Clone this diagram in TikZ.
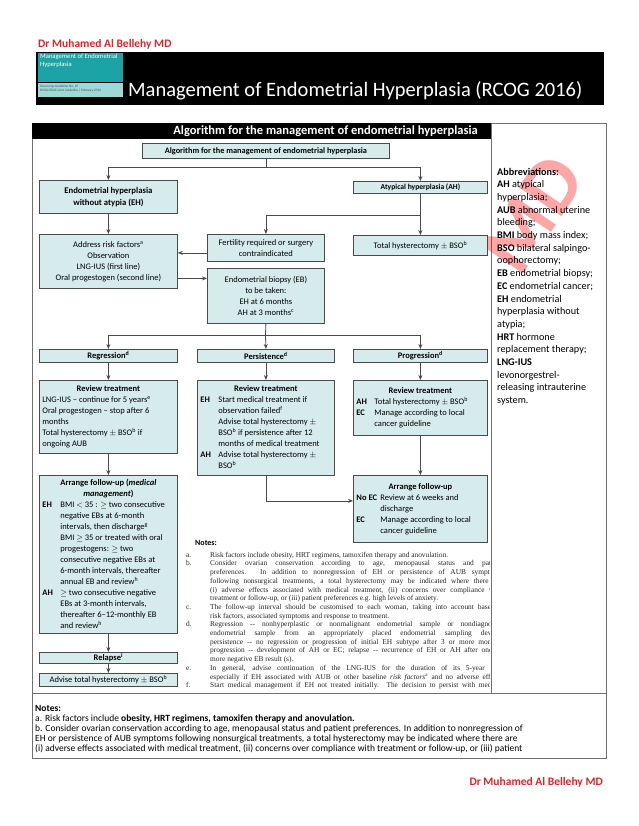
\documentclass[tikz,border=0pt]{standalone}
\usepackage{fontspec}
\setmainfont{Carlito}
\newfontfamily\notesfont{Liberation Serif}
\usepackage{array}
\usetikzlibrary{arrows.meta,calc}
\definecolor{boxfill}{HTML}{D6ECEC}
\definecolor{boxline}{HTML}{4A4A4A}
\definecolor{sigred}{HTML}{D9262A}
\definecolor{tealA}{HTML}{1BA3A6}
\definecolor{tealB}{HTML}{9FD9D6}
\definecolor{frameline}{HTML}{707070}
\newcommand{\jline}[1]{\makebox[292pt][s]{#1}}
\begin{document}
\begin{tikzpicture}[x=1pt,y=-1pt,
  fbox/.style={draw=boxline, fill=boxfill, line width=0.8pt, inner sep=0pt, anchor=north west, align=center, font=\fontsize{8.5}{11}\selectfont},
  arr/.style={draw=boxline, line width=0.8pt, -{Stealth[length=5pt,width=4pt]}},
  ln/.style={draw=boxline, line width=0.8pt},
  plain/.style={inner sep=0pt}
]
\useasboundingbox (0,0) rectangle (638,826);
\fill[white] (0,0) rectangle (638,826);

% ---------- header ----------
\node[plain, anchor=west, text=sigred, font=\bfseries\fontsize{11.5}{12}\selectfont] (sig1) at (38,44) {Dr Muhamed Al Bellehy MD};
\node[plain, fill=black, anchor=north west, minimum width=568, minimum height=53] (band) at (36,52) {};
\node[plain, fill=tealA, anchor=north west, minimum width=85, minimum height=29] (tealtop) at (38,53) {};
\node[plain, fill=tealB, anchor=north west, minimum width=85, minimum height=14] (tealbot) at (38,83) {};
\node[plain, anchor=north west, text=white, align=left, font=\fontsize{6.6}{8}\selectfont] (tealtxt) at (40,54) {Management of Endometrial\\Hyperplasia};
\node[plain, anchor=north west, text=black!70, align=left, font=\fontsize{3.4}{4.2}\selectfont] (tealtxt2) at (40,85) {Green-top Guideline No. 67\\RCOG/BSGE Joint Guideline | February 2016};
\node[plain, anchor=base west, text=white, font=\fontsize{20.5}{21}\selectfont] (title) at (128,97) {Management of Endometrial Hyperplasia (RCOG 2016)};

% ---------- frame ----------
\draw[frameline, line width=0.9pt] (32,123) rectangle (606,758);
\draw[frameline, line width=0.9pt] (491,123) -- (491,693);
\draw[frameline, line width=0.9pt] (32,693) -- (606,693);
\node[plain, fill=black, anchor=north west, minimum width=459, minimum height=15.5] (secbar) at (32,123) {};
\node[plain, anchor=east, text=white, font=\bfseries\fontsize{12.5}{12.5}\selectfont] (sectitle) at (478,131) {Algorithm for the management of endometrial hyperplasia};

% ---------- watermark ----------
\node[plain, rotate=56, text=red, opacity=0.35, font=\bfseries\fontsize{80}{80}\selectfont] (wm) at (533,214) {MD};

% ---------- flowchart boxes ----------
\node[fbox, minimum width=247, minimum height=15, font=\bfseries\fontsize{8.3}{10}\selectfont] (alg) at (142,143) {Algorithm for the management of endometrial hyperplasia};
\node[fbox, minimum width=138, minimum height=33, font=\bfseries\fontsize{8.7}{12}\selectfont] (eh) at (39,180) {Endometrial hyperplasia\\without atypia (EH)};
\node[fbox, minimum width=134, minimum height=12.5, font=\bfseries\fontsize{7.6}{9}\selectfont] (ah) at (353,181) {Atypical hyperplasia (AH)};
\node[fbox, minimum width=138, minimum height=54] (addr) at (39,234) {Address risk factors\textsuperscript{a}\\Observation\\LNG-IUS (first line)\\Oral progestogen (second line)};
\node[fbox, minimum width=117, minimum height=27] (fert) at (207,234) {Fertility required or surgery\\contraindicated};
\node[fbox, minimum width=134, minimum height=20] (th) at (353,235) {Total hysterectomy $\pm$ BSO\textsuperscript{b}};
\node[fbox, minimum width=117, minimum height=55] (eb) at (207,268) {Endometrial biopsy (EB)\\to be taken:\\EH at 6 months\\AH at 3 months\textsuperscript{c}};

\node[fbox, minimum width=138, minimum height=12.5, font=\bfseries\fontsize{8.5}{10}\selectfont] (reg) at (39,349) {Regression\textsuperscript{d}};
\node[fbox, minimum width=137, minimum height=12.5, font=\bfseries\fontsize{8.5}{10}\selectfont] (pers) at (197,349) {Persistence\textsuperscript{d}};
\node[fbox, minimum width=134, minimum height=12.5, font=\bfseries\fontsize{8.5}{10}\selectfont] (prog) at (353,349) {Progression\textsuperscript{d}};

\node[fbox, minimum width=138, minimum height=73] (rev1) at (39,380) {%
\begin{tabular}{@{}l@{}}
\makebox[132pt]{\textbf{Review treatment}}\\
LNG-IUS -- continue for 5 years\textsuperscript{e}\\
Oral progestogen -- stop after 6\\
months\\
Total hysterectomy $\pm$ BSO\textsuperscript{b} if\\
ongoing AUB
\end{tabular}};

\node[fbox, minimum width=137, minimum height=95] (rev2) at (197,380) {%
\begin{tabular}{@{}p{18pt}@{}l@{}}
\multicolumn{2}{@{}l@{}}{\makebox[131pt]{\textbf{Review treatment}}}\\
\textbf{EH} & Start medical treatment if\\
 & observation failed\textsuperscript{f}\\
 & Advise total hysterectomy $\pm$\\
 & BSO\textsuperscript{b} if persistence after 12\\
 & months of medical treatment\\
\textbf{AH} & Advise total hysterectomy $\pm$\\
 & BSO\textsuperscript{b}
\end{tabular}};

\node[fbox, minimum width=134, minimum height=55] (rev3) at (353,380) {%
\begin{tabular}{@{}p{18pt}@{}l@{}}
\multicolumn{2}{@{}l@{}}{\makebox[128pt]{\textbf{Review treatment}}}\\
\textbf{AH} & Total hysterectomy $\pm$ BSO\textsuperscript{b}\\
\textbf{EC} & Manage according to local\\
 & cancer guideline
\end{tabular}};

\node[fbox, minimum width=138, minimum height=158] (fu1) at (39,475) {%
\begin{tabular}{@{}p{18pt}@{}l@{}}
\multicolumn{2}{@{}l@{}}{\makebox[132pt]{\textbf{Arrange follow-up (\textit{medical}}}}\\
\multicolumn{2}{@{}l@{}}{\makebox[132pt]{\textbf{\textit{management})}}}\\
\textbf{EH} & BMI $<$ 35 : $\geq$ two consecutive\\
 & negative EBs at 6-month\\
 & intervals, then discharge\textsuperscript{g}\\
 & BMI $\geq$ 35 or treated with oral\\
 & progestogens: $\geq$ two\\
 & consecutive negative EBs at\\
 & 6-month intervals, thereafter\\
 & annual EB and review\textsuperscript{h}\\
\textbf{AH} & $\geq$ two consecutive negative\\
 & EBs at 3-month intervals,\\
 & thereafter 6--12-monthly EB\\
 & and review\textsuperscript{h}
\end{tabular}};

\node[fbox, minimum width=134, minimum height=67] (fu2) at (353,475) {%
\begin{tabular}{@{}p{24pt}@{}l@{}}
\multicolumn{2}{@{}l@{}}{\makebox[128pt]{\textbf{Arrange follow-up}}}\\
\textbf{No EC} & Review at 6 weeks and\\
 & discharge\\
\textbf{EC} & Manage according to local\\
 & cancer guideline
\end{tabular}};

\node[fbox, minimum width=138, minimum height=11, font=\bfseries\fontsize{8.5}{10}\selectfont] (rel) at (39,652) {Relapse\textsuperscript{i}};
\node[fbox, minimum width=138, minimum height=13] (adv) at (39,673) {Advise total hysterectomy $\pm$ BSO\textsuperscript{b}};

% ---------- connectors ----------
\draw[arr] (alg.south) -- ++(0,9) -| (eh.north);
\draw[arr] (alg.south) -- ++(0,9) -| (ah.north);
\draw[arr] (ah.south) -- (th.north);
\coordinate (jA) at (420,215);
\draw[arr] (jA) -| (fert.north);
\draw[arr] (eh.south) -- (addr.north);
\draw[arr] ([yshift=-5pt]fert.west) -- ([yshift=-5pt]fert.west -| addr.east);
\draw[arr] ([yshift=-17pt]addr.east) -- ([yshift=-17pt]addr.east -| eb.west);
\coordinate (jB) at (265.5,335);
\draw[ln] (eb.south) -- (jB);
\draw[arr] (jB) -| (reg.north);
\draw[arr] (jB) -| (prog.north);
\draw[arr] (jB) -- (pers.north);
\draw[arr] (reg.south) -- (rev1.north);
\draw[arr] (pers.south) -- (rev2.north);
\draw[arr] (prog.south) -- (rev3.north);
\draw[arr] (rev1.south) -- (fu1.north);
\draw[arr] (rev3.south) -- (fu2.north);
\draw[arr] (rev2.south) |- ([yshift=8pt]fu2.west);
\draw[arr] (fu1.south) -- (rel.north);
\draw[arr] (rel.south) -- (adv.north);

% ---------- embedded notes (clipped) ----------
\begin{scope}
\clip (180,536) rectangle (489.5,692);
\node[plain, anchor=west, font=\bfseries\fontsize{8}{8}\selectfont] (notesB) at (195,543) {Notes:};
\node[plain, anchor=north west, text=black!85, font=\notesfont\fontsize{7.4}{8.7}\selectfont] (snotes) at (186,551) {%
\begin{tabular}{@{}p{24pt}@{}l@{}}
a. & Risk factors include obesity, HRT regimens, tamoxifen therapy and anovulation.\\
b. & \jline{Consider ovarian conservation according to age, menopausal status and patient}\\
 & \jline{preferences. In addition to nonregression of EH or persistence of AUB symptoms}\\
 & \jline{following nonsurgical treatments, a total hysterectomy may be indicated where there are}\\
 & \jline{(i) adverse effects associated with medical treatment, (ii) concerns over compliance with}\\
 & treatment or follow-up, or (iii) patient preferences e.g. high levels of anxiety.\\
c. & \jline{The follow-up interval should be customised to each woman, taking into account baseline}\\
 & risk factors, associated symptoms and response to treatment.\\
d. & \jline{Regression -- nonhyperplastic or nonmalignant endometrial sample or nondiagnostic}\\
 & \jline{endometrial sample from an appropriately placed endometrial sampling device;}\\
 & \jline{persistence -- no regression or progression of initial EH subtype after 3 or more months;}\\
 & \jline{progression -- development of AH or EC; relapse -- recurrence of EH or AH after one or}\\
 & more negative EB result (s).\\
e. & \jline{In general, advise continuation of the LNG-IUS for the duration of its 5-year use,}\\
 & \jline{especially if EH associated with AUB or other baseline \textit{risk factors}\textsuperscript{a} and no adverse effects}\\
f. & \jline{Start medical management if EH not treated initially. The decision to persist with medical}
\end{tabular}};
\end{scope}

% ---------- abbreviations ----------
\node[plain, anchor=north west, font=\fontsize{10.2}{12.7}\selectfont] (abbr) at (497,166) {%
\begin{tabular}{@{}l@{}}
\textbf{Abbreviations:}\\
\textbf{AH} atypical\\
hyperplasia;\\
\textbf{AUB} abnormal uterine\\
bleeding;\\
\textbf{BMI} body mass index;\\
\textbf{BSO} bilateral salpingo-\\
oophorectomy;\\
\textbf{EB} endometrial biopsy;\\
\textbf{EC} endometrial cancer;\\
\textbf{EH} endometrial\\
hyperplasia without\\
atypia;\\
\textbf{HRT} hormone\\
replacement therapy;\\
\textbf{LNG-IUS}\\
levonorgestrel-\\
releasing intrauterine\\
system.
\end{tabular}};

% ---------- bottom notes ----------
\node[plain, anchor=north west, font=\fontsize{9.5}{10}\selectfont] (bnotes) at (35,704) {%
\begin{tabular}{@{}l@{}}
\textbf{Notes:}\\
a. Risk factors include \textbf{obesity, HRT regimens, tamoxifen therapy and anovulation.}\\
b. Consider ovarian conservation according to age, menopausal status and patient preferences. In addition to nonregression of\\
EH or persistence of AUB symptoms following nonsurgical treatments, a total hysterectomy may be indicated where there are\\
(i) adverse effects associated with medical treatment, (ii) concerns over compliance with treatment or follow-up, or (iii) patient
\end{tabular}};

\node[plain, anchor=east, text=sigred, font=\bfseries\fontsize{11.5}{12}\selectfont] (sig2) at (603,782) {Dr Muhamed Al Bellehy MD};
\end{tikzpicture}
\end{document}
